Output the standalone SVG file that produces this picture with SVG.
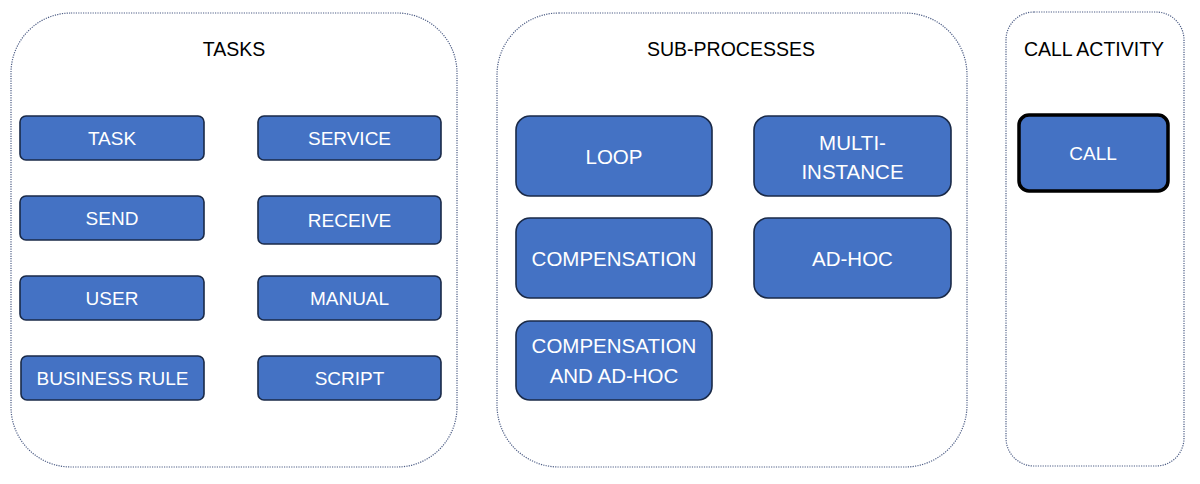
<svg xmlns="http://www.w3.org/2000/svg" width="1200" height="484" viewBox="0 0 1200 484">
<style>
.cont{fill:#fff;stroke:#4d5d85;stroke-width:1.2;stroke-dasharray:1.2 1.2}
.title{font-family:"Liberation Sans",Arial,sans-serif;font-size:19.5px;fill:#000;text-anchor:middle}
.box{fill:#4472C4;stroke:#1a2a48;stroke-width:1.6}
.call{fill:#4472C4;stroke:#000;stroke-width:3.5}
.lbl{font-family:"Liberation Sans",Arial,sans-serif;font-size:19px;fill:#fff;text-anchor:middle}
.lbl2{font-family:"Liberation Sans",Arial,sans-serif;font-size:20.5px;fill:#fff;text-anchor:middle}
</style>
<rect width="1200" height="484" fill="#fff"/>
<g id="tasks-group">
<rect class="cont" x="11" y="13" width="446" height="454" rx="60" ry="60"/>
<text class="title" x="234" y="56">TASKS</text>
</g>
<g id="subprocesses-group">
<rect class="cont" x="497" y="13" width="470" height="454" rx="62" ry="62"/>
<text class="title" x="731" y="56">SUB-PROCESSES</text>
</g>
<g id="callactivity-group">
<rect class="cont" x="1006" y="12" width="178" height="454" rx="28" ry="28"/>
<text class="title" x="1094" y="56">CALL ACTIVITY</text>
</g>
<g id="task"><rect class="box" x="20" y="116" width="184" height="44" rx="6"/><text class="lbl" x="112" y="145">TASK</text></g>
<g id="service"><rect class="box" x="258" y="116" width="183" height="44" rx="6"/><text class="lbl" x="349.5" y="145">SERVICE</text></g>
<g id="send"><rect class="box" x="20" y="196" width="184" height="44" rx="6"/><text class="lbl" x="112" y="225">SEND</text></g>
<g id="receive"><rect class="box" x="258" y="196" width="183" height="48" rx="6"/><text class="lbl" x="349.5" y="227">RECEIVE</text></g>
<g id="user"><rect class="box" x="20" y="276" width="184" height="44" rx="6"/><text class="lbl" x="112" y="305">USER</text></g>
<g id="manual"><rect class="box" x="258" y="276" width="183" height="44" rx="6"/><text class="lbl" x="349.5" y="305">MANUAL</text></g>
<g id="business-rule"><rect class="box" x="21" y="356" width="183" height="44" rx="6"/><text class="lbl" x="112.5" y="385">BUSINESS RULE</text></g>
<g id="script"><rect class="box" x="258" y="356" width="183" height="44" rx="6"/><text class="lbl" x="349.5" y="385">SCRIPT</text></g>
<g id="loop"><rect class="box" x="516" y="116" width="196" height="80" rx="14"/><text class="lbl2" x="614" y="164">LOOP</text></g>
<g id="multi-instance"><rect class="box" x="754" y="116" width="197" height="80" rx="14"/><text class="lbl2" x="852.5" y="150">MULTI-</text><text class="lbl2" x="852.5" y="179">INSTANCE</text></g>
<g id="compensation"><rect class="box" x="516" y="218" width="196" height="80" rx="14"/><text class="lbl2" x="614" y="266">COMPENSATION</text></g>
<g id="ad-hoc"><rect class="box" x="754" y="218" width="197" height="80" rx="14"/><text class="lbl2" x="852.5" y="266">AD-HOC</text></g>
<g id="compensation-ad-hoc"><rect class="box" x="516" y="321" width="196" height="79" rx="14"/><text class="lbl2" x="614" y="353">COMPENSATION</text><text class="lbl2" x="614" y="383">AND AD-HOC</text></g>
<g id="call"><rect class="call" x="1019" y="115" width="149" height="76" rx="10"/><text class="lbl" x="1093" y="160">CALL</text></g>
<g id="connectors"/>
</svg>
